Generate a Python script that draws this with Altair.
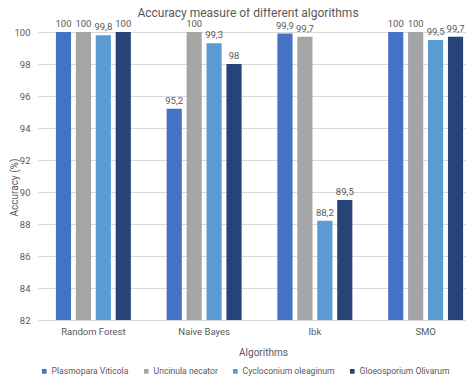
import altair as alt
import pandas as pd

algorithms = ["Random Forest", "Naive Bayes", "Ibk", "SMO"]
pathogens = ["Plasmopara Viticola", "Uncinula necator", "Cycloconium oleaginum", "Gloeosporium Olivarum"]
plasmopara = [100, 95.2, 99.9, 100]
uncinula = [100, 100, 99.7, 100]
cycloconium = [99.8, 99.3, 88.2, 99.5]
gloeosporium = [100, 98, 89.5, 99.7]
colors = ["#4472C4", "#A5A5A5", "#5B9BD5", "#264478"]
y_ticks = [82, 84, 86, 88, 90, 92, 94, 96, 98, 100]

series = [plasmopara, uncinula, cycloconium, gloeosporium]
rows = []
for p, vals in zip(pathogens, series):
    for a, v in zip(algorithms, vals):
        rows.append({"Algorithm": a, "Pathogen": p, "Accuracy": v,
                     "label": f"{v:g}".replace(".", ",")})
df = pd.DataFrame(rows)

FONT = "Roboto"
GRAY = "#595959"

x = alt.X("Algorithm:N", sort=algorithms,
          scale=alt.Scale(range=[-2, 441], paddingInner=0.28, paddingOuter=0.14),
          axis=alt.Axis(title="Algorithms", labelAngle=0, domain=False, ticks=False,
                        labelPadding=6, labelFontSize=9.5, labelColor=GRAY, labelFont=FONT,
                        titleFont=FONT, titleFontSize=10, titleColor=GRAY, titleFontWeight="normal",
                        titleX=223, titleY=32, titleBaseline="middle"))
xo = alt.XOffset("Pathogen:N", sort=pathogens,
                 scale=alt.Scale(paddingInner=0.24, paddingOuter=0.12))
y = alt.Y("Accuracy:Q",
          scale=alt.Scale(domain=[82, 100], zero=False, nice=False),
          axis=alt.Axis(title="Accuracy (%)", values=y_ticks, domain=False, ticks=False,
                        labelPadding=10, labelFontSize=9.5, labelColor=GRAY, labelFont=FONT,
                        gridColor="#D9D9D9", titleFont=FONT, titleFontSize=10, titleColor=GRAY,
                        titleFontWeight="normal", titleX=-26, titleY=155,
                        titleAlign="center", titleBaseline="middle"))
color = alt.Color("Pathogen:N", sort=pathogens,
                  scale=alt.Scale(domain=pathogens, range=colors),
                  legend=alt.Legend(title=None, orient="none", legendX=0, legendY=335,
                                    direction="horizontal", symbolType="square", symbolSize=22,
                                    symbolStrokeWidth=0, labelFontSize=8.6, labelColor=GRAY,
                                    labelFont=FONT, columnPadding=13, labelOffset=3,
                                    labelLimit=200))

bars = alt.Chart(df).mark_bar().encode(x=x, xOffset=xo, y=y, y2=alt.datum(82), color=color)
text = alt.Chart(df).mark_text(baseline="alphabetic", dy=-5, fontSize=9.5, color=GRAY,
                               font=FONT).encode(x=x, xOffset=xo, y=y, text="label:N")

chart = (bars + text).properties(
    width=426, height=288,
    autosize=alt.AutoSizeParams(type="none"),
    padding={"left": 32, "top": 24, "right": 0, "bottom": 58},
    title=alt.TitleParams("Accuracy measure of different algorithms", font=FONT, fontSize=12,
                          fontWeight="normal", color=GRAY, anchor="middle", dx=-5, offset=-1),
).configure_view(stroke=None)

chart.save("out.html", embed_options={"renderer": "svg", "actions": False})
